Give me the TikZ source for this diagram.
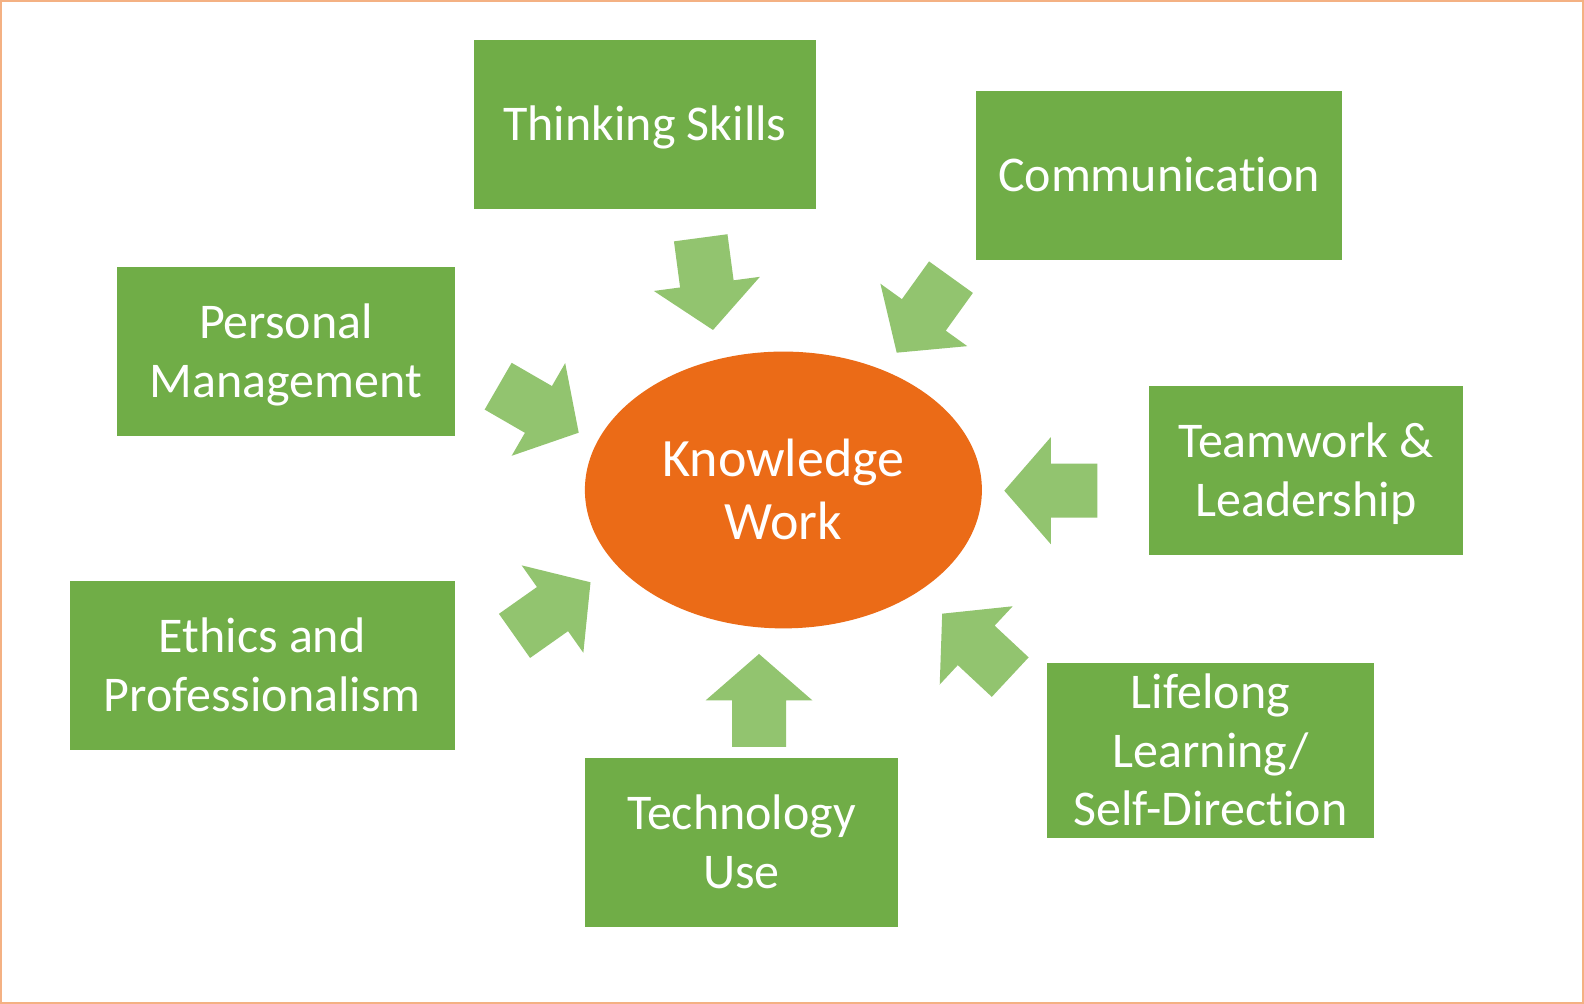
\documentclass[tikz,border=0pt]{standalone}
\usepackage{fontspec}
\setmainfont[Ligatures={NoCommon,NoContextual,NoRare},Contextuals={NoAlternate}]{Carlito}
\usetikzlibrary{shapes.geometric}
\definecolor{boxgreen}{HTML}{70AD47}
\definecolor{arrowgreen}{HTML}{92C46F}
\definecolor{coreorange}{HTML}{EB6B17}
\definecolor{framepeach}{HTML}{F4B183}
\newcommand\lnstrut{\rule[-0.25em]{0pt}{1.16em}}
\tikzset{
  lbl/.style={text=white, align=center, inner sep=0pt,
    font={\fontsize{25pt}{29.2pt}\selectfont\lineskiplimit=-100pt}},
  skillbox/.style={lbl, rectangle, fill=boxgreen, minimum height=84.5pt},
  core/.style={lbl, ellipse, fill=coreorange, minimum width=198.5pt, minimum height=138.4pt,
    font={\fontsize{27pt}{31.4pt}\selectfont\lineskiplimit=-100pt}},
  blockarrow/.pic={\fill[arrowgreen] (0,0) -- (-46.5,53.5) -- (-46.5,27) -- (-93,27)
     -- (-93,-27) -- (-46.5,-27) -- (-46.5,-53.5) -- cycle;}
}
\begin{document}
\begin{tikzpicture}[x=0.5pt,y=0.5pt]
\useasboundingbox (0,0) rectangle (1584,1004);
\fill[white] (0,0) rectangle (1584,1004);
\draw[framepeach, line width=1pt] (1,1) rectangle (1583,1003);

% centre
\node[core] (kw) at (783.4,514) {\lnstrut Knowledge\\\lnstrut Work};

% skill boxes
\node[skillbox, minimum width=171pt] (think) at (645,879.5) {\lnstrut Thinking Skills};
\node[skillbox, minimum width=183pt] (comm) at (1159,828.5) {\lnstrut Communication};
\node[skillbox, minimum width=169pt] (pers) at (286,652.3) {\lnstrut Personal\\\lnstrut Management};
\node[skillbox, minimum width=156.9pt] (team) at (1305.9,533.4) {\lnstrut Teamwork \&\\\lnstrut Leadership};
\node[skillbox, minimum width=163.4pt] (life) at (1210.4,253.4) {\lnstrut Lifelong\\\lnstrut Learning/\\\lnstrut Self-Direction};
\node[skillbox, minimum width=192.5pt] (eth) at (262.2,338.4) {\lnstrut Ethics and\\\lnstrut Professionalism};
\node[skillbox, minimum width=156.6pt] (tech) at (741.5,161.6) {\lnstrut Technology\\\lnstrut Use};

% block arrows pointing at the centre
\pic[rotate=-82.4] at (713,674) {blockarrow};
\pic[rotate=-125.7] at (896.7,651.3) {blockarrow};
\pic[rotate=-30] at (578.7,571.3) {blockarrow};
\pic[rotate=35.2] at (590.5,421.7) {blockarrow};
\pic[rotate=90] at (759,350) {blockarrow};
\pic[rotate=137] at (942.2,390.3) {blockarrow};
\pic[rotate=180] at (1004.3,513.3) {blockarrow};
\end{tikzpicture}
\end{document}
